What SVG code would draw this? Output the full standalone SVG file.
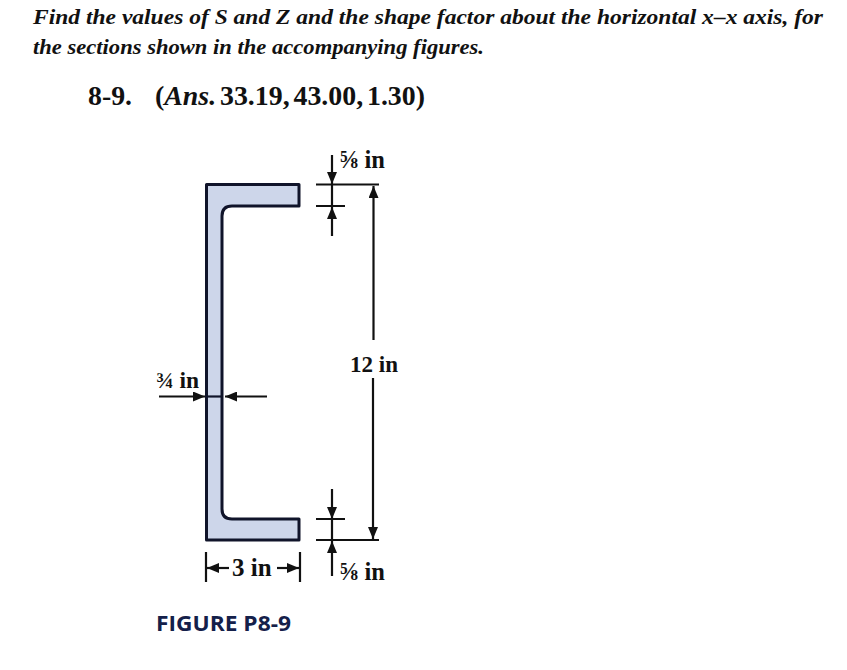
<svg xmlns="http://www.w3.org/2000/svg" width="847" height="670" viewBox="0 0 847 670">
<style>
.s{font-family:"Liberation Serif",serif;fill:#111}
.b{font-weight:bold}
.i{font-style:italic;font-weight:bold}
.d{stroke:#111;stroke-width:2.2;fill:none}
</style>
<defs>
<marker id="a" markerUnits="userSpaceOnUse" markerWidth="13" markerHeight="10" refX="12" refY="5" orient="auto"><path d="M0 0L12 5L0 10Z" fill="#111"/></marker>
</defs>
<rect width="847" height="670" fill="#fff"/>
<g id="problem-text">
<text class="s i" x="33" y="23.500" font-size="21.500" textLength="790" lengthAdjust="spacingAndGlyphs">Find the values of S and Z and the shape factor about the horizontal x–x axis, for</text>
<text class="s i" x="33" y="53.500" font-size="21.500" textLength="451" lengthAdjust="spacingAndGlyphs">the sections shown in the accompanying figures.</text>
<text class="s b" x="88" y="105" font-size="27" textLength="44" lengthAdjust="spacingAndGlyphs">8-9.</text>
<text class="s" x="155" y="105" font-size="27" font-weight="bold" word-spacing="-3" textLength="270" lengthAdjust="spacingAndGlyphs">(<tspan font-style="italic">Ans.</tspan> 33.19, 43.00, 1.30)</text>
</g>
<g id="channel-section">
<path d="M206.500 184.500H299V206H232Q222 206 222 216V509Q222 519 232 519H299V540H206.500Z" fill="#cdd6ea" stroke="#10142a" stroke-width="3" stroke-linejoin="round"/>
</g>
<g id="connectors">
<path class="d" d="M332 155V184" marker-end="url(#a)"/>
<path class="d" d="M332 236V207" marker-end="url(#a)"/>
<path class="d" d="M332 184V207M316 184.500H379M316 206H345"/>
<path class="d" d="M373.500 340V186" marker-end="url(#a)"/>
<path class="d" d="M373 378V539" marker-end="url(#a)"/>
<path class="d" d="M332 489V519" marker-end="url(#a)"/>
<path class="d" d="M332 576V541" marker-end="url(#a)"/>
<path class="d" d="M332 519V541M316 519H345M316 540H379"/>
<path class="d" d="M159 396.500H205" marker-end="url(#a)"/>
<path class="d" d="M267 396.500H225" marker-end="url(#a)"/>
<path d="M206 396.500H222" stroke="#10142a" stroke-width="2.200"/>
<path class="d" d="M206 552V582M300 552V582"/>
<path class="d" d="M229 568H207" marker-end="url(#a)"/>
<path class="d" d="M277 568H299" marker-end="url(#a)"/>
</g>
<g id="labels">
<text class="s b" x="340" y="168" font-size="24.500">⅝ in</text>
<text class="s b" x="350" y="372" font-size="24" textLength="48" lengthAdjust="spacingAndGlyphs">12 in</text>
<text class="s b" x="156" y="388" font-size="23.500">¾ in</text>
<text class="s b" x="232" y="576" font-size="25">3 in</text>
<text class="s b" x="340" y="580" font-size="24.500">⅝ in</text>
<text x="156" y="631" font-family="'Open Sans',sans-serif" font-weight="700" font-size="21" textLength="135" lengthAdjust="spacingAndGlyphs" fill="#14204a">FIGURE P8-9</text>
</g>
</svg>
